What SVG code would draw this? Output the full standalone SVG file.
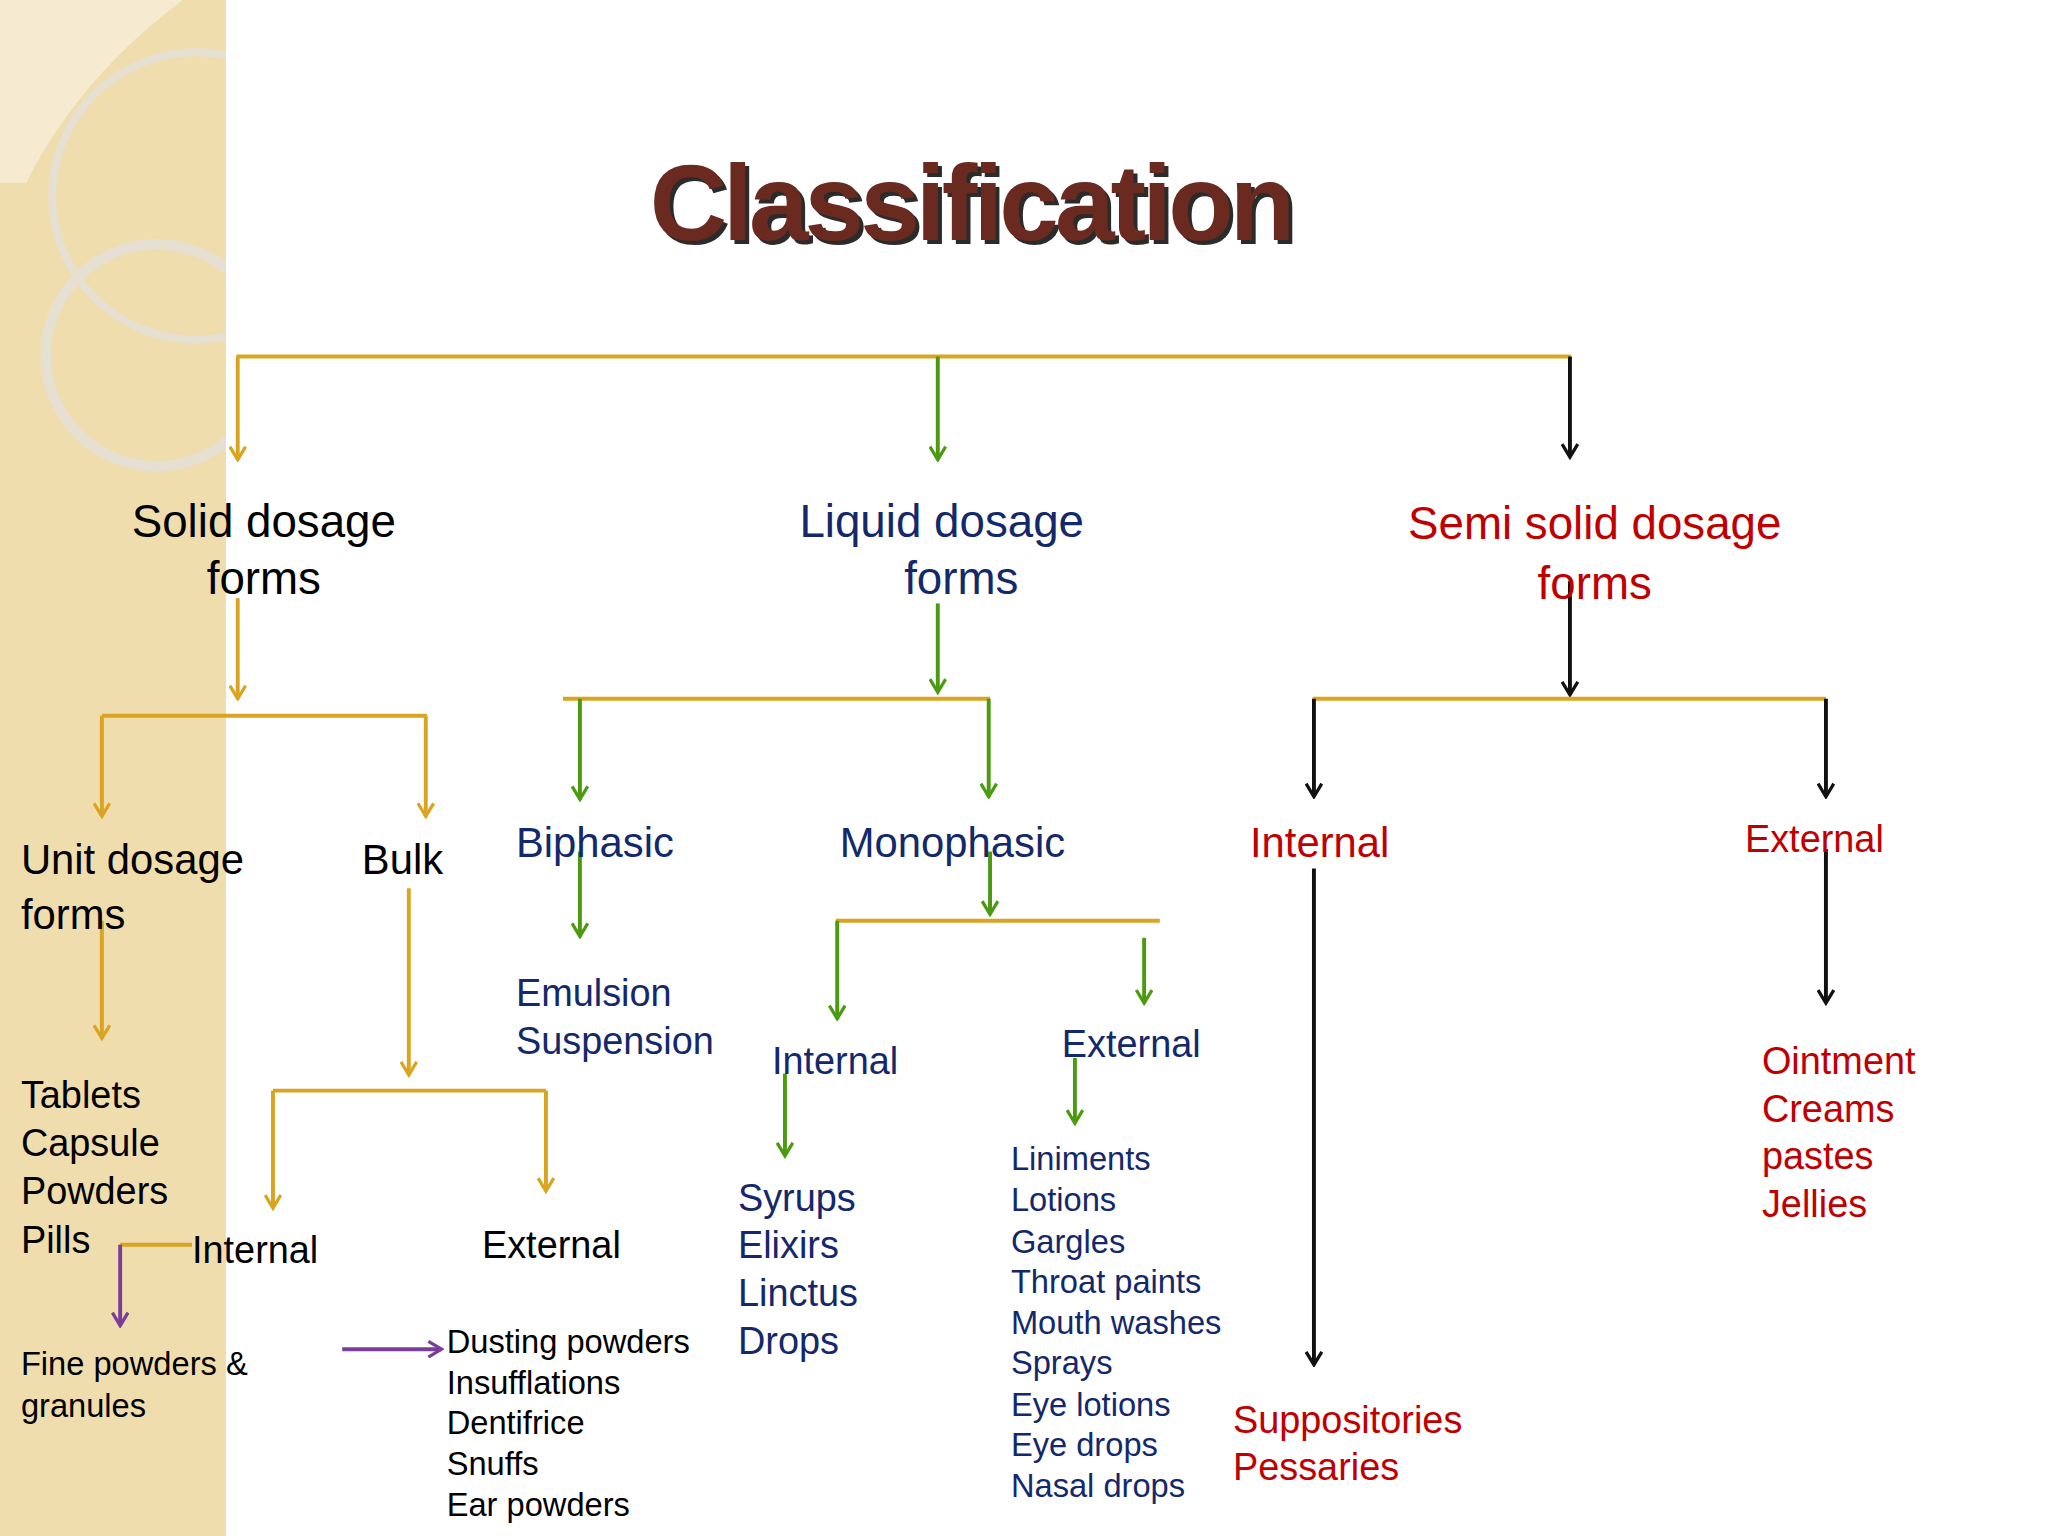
<svg xmlns="http://www.w3.org/2000/svg" width="2048" height="1536" viewBox="0 0 2048 1536">
<defs>
<style>
.c{fill:none;stroke-width:3}
.g{stroke:#D9A520}.n{stroke:#4C9A10}.k{stroke:#111}.p{stroke:#7A3E9A}
text{font-family:"Liberation Sans",Arial,sans-serif}
.h{font-size:35px}.s{font-size:32px}.l{font-size:29px}.m{font-size:25px}
.bk{fill:#000}.nv{fill:#13296B}.rd{fill:#C00000}
</style>
<clipPath id="band"><rect x="0" y="0" width="173" height="1176"/></clipPath>
<marker id="ag" markerWidth="14" markerHeight="14" refX="7" refY="12" markerUnits="userSpaceOnUse" viewBox="0 0 14 14"><path d="M1,2 L7,12 L13,2" fill="none" stroke="#D9A520" stroke-width="2.5"/></marker>
<marker id="an" markerWidth="14" markerHeight="14" refX="7" refY="12" markerUnits="userSpaceOnUse" viewBox="0 0 14 14"><path d="M1,2 L7,12 L13,2" fill="none" stroke="#4C9A10" stroke-width="2.5"/></marker>
<marker id="ak" markerWidth="14" markerHeight="14" refX="7" refY="12" markerUnits="userSpaceOnUse" viewBox="0 0 14 14"><path d="M1,2 L7,12 L13,2" fill="none" stroke="#111" stroke-width="2.5"/></marker>
<marker id="ap" markerWidth="14" markerHeight="14" refX="7" refY="12" markerUnits="userSpaceOnUse" viewBox="0 0 14 14"><path d="M1,2 L7,12 L13,2" fill="none" stroke="#7A3E9A" stroke-width="2.5"/></marker>
<marker id="ap2" markerWidth="14" markerHeight="14" refX="12" refY="7" markerUnits="userSpaceOnUse" viewBox="0 0 14 14"><path d="M2,1 L12,7 L2,13" fill="none" stroke="#7A3E9A" stroke-width="2.5"/></marker>
</defs>
<rect width="2048" height="1536" fill="#fff"/>
<g transform="scale(1.3061)">
<g id="background">
<rect x="0" y="0" width="173" height="1176" fill="#EFDDAE"/>
<g clip-path="url(#band)">
<path d="M0,0 H140 Q60,60 20,140 H0 Z" fill="#F6EBD0"/>
<circle cx="150" cy="150" r="110" fill="none" stroke="#E6E0D2" stroke-width="6"/>
<circle cx="120" cy="272" r="85" fill="none" stroke="#E6E0D2" stroke-width="8"/>
</g>
</g>
<g id="title"><text x="746" y="187" font-size="82" font-weight="bold" text-anchor="middle" fill="#2b2b2b" letter-spacing="-3">Classification</text><text x="743" y="184" font-size="82" font-weight="bold" text-anchor="middle" fill="#6B2A1F" letter-spacing="-3">Classification</text></g>
<g id="connectors">
<path class="c g" d="M181,273 H1203"/>
<path class="c g" d="M182,273 V352" marker-end="url(#ag)"/>
<path class="c n" d="M718,273 V352" marker-end="url(#an)"/>
<path class="c k" d="M1202,273 V350" marker-end="url(#ak)"/>
<path class="c g" d="M182,458 V535" marker-end="url(#ag)"/>
<path class="c g" d="M78,548 H327"/>
<path class="c g" d="M78,548 V625" marker-end="url(#ag)"/>
<path class="c g" d="M326,548 V625" marker-end="url(#ag)"/>
<path class="c g" d="M78,705 V795" marker-end="url(#ag)"/>
<path class="c g" d="M313,680 V823" marker-end="url(#ag)"/>
<path class="c g" d="M209,835 H418"/>
<path class="c g" d="M209,835 V925" marker-end="url(#ag)"/>
<path class="c g" d="M418,835 V912" marker-end="url(#ag)"/>
<path class="c g" d="M147,953 H92"/>
<path class="c p" d="M92,953 V1015" marker-end="url(#ap)"/>
<path class="c p" d="M262,1033 H338" marker-end="url(#ap2)"/>
<path class="c n" d="M718,462 V530" marker-end="url(#an)"/>
<path class="c g" d="M431,535 H758"/>
<path class="c n" d="M444,535 V612" marker-end="url(#an)"/>
<path class="c n" d="M757,535 V610" marker-end="url(#an)"/>
<path class="c n" d="M444,652 V717" marker-end="url(#an)"/>
<path class="c n" d="M758,652 V700" marker-end="url(#an)"/>
<path class="c g" d="M640,705 H888"/>
<path class="c n" d="M641,705 V780" marker-end="url(#an)"/>
<path class="c n" d="M876,718 V768" marker-end="url(#an)"/>
<path class="c n" d="M601,822 V885" marker-end="url(#an)"/>
<path class="c n" d="M823,810 V860" marker-end="url(#an)"/>
<path class="c k" d="M1202,445 V532" marker-end="url(#ak)"/>
<path class="c g" d="M1005,535 H1398"/>
<path class="c k" d="M1006,535 V610" marker-end="url(#ak)"/>
<path class="c k" d="M1398,535 V610" marker-end="url(#ak)"/>
<path class="c k" d="M1006,665 V1045" marker-end="url(#ak)"/>
<path class="c k" d="M1398,650 V768" marker-end="url(#ak)"/>
</g>
<g id="solid"><text class="h bk" x="202" y="411" text-anchor="middle">Solid dosage</text><text class="h bk" x="202" y="455" text-anchor="middle">forms</text></g>
<g id="liquid"><text class="h nv" x="721" y="411" text-anchor="middle">Liquid dosage</text><text class="h nv" x="736" y="455" text-anchor="middle">forms</text></g>
<g id="semisolid"><text class="h rd" x="1221" y="413" text-anchor="middle">Semi solid dosage</text><text class="h rd" x="1221" y="459" text-anchor="middle">forms</text></g>
<g id="unit"><text class="s bk" x="16" y="669">Unit dosage</text><text class="s bk" x="16" y="711">forms</text></g>
<g id="bulk"><text class="s bk" x="277" y="669">Bulk</text></g>
<g id="unitlist"><text class="l bk" x="16" y="848">Tablets</text><text class="l bk" x="16" y="885">Capsule</text><text class="l bk" x="16" y="922">Powders</text><text class="l bk" x="16" y="959">Pills</text></g>
<g id="bulkint"><text class="l bk" x="147" y="967">Internal</text></g>
<g id="bulkext"><text class="l bk" x="369" y="963">External</text></g>
<g id="fine"><text class="m bk" x="16" y="1053">Fine powders &amp;</text><text class="m bk" x="16" y="1085">granules</text></g>
<g id="dusting"><text class="m bk" x="342" y="1036">Dusting powders</text><text class="m bk" x="342" y="1067">Insufflations</text><text class="m bk" x="342" y="1098">Dentifrice</text><text class="m bk" x="342" y="1129">Snuffs</text><text class="m bk" x="342" y="1161">Ear powders</text></g>
<g id="biphasic"><text class="s nv" x="395" y="656">Biphasic</text></g>
<g id="monophasic"><text class="s nv" x="643" y="656">Monophasic</text></g>
<g id="emulsion"><text class="l nv" x="395" y="770">Emulsion</text><text class="l nv" x="395" y="807">Suspension</text></g>
<g id="monoint"><text class="l nv" x="591" y="822">Internal</text></g>
<g id="monoext"><text class="l nv" x="813" y="809">External</text></g>
<g id="syrups"><text class="l nv" x="565" y="927">Syrups</text><text class="l nv" x="565" y="963">Elixirs</text><text class="l nv" x="565" y="1000">Linctus</text><text class="l nv" x="565" y="1037">Drops</text></g>
<g id="liniments"><text class="m nv" x="774" y="896">Liniments</text><text class="m nv" x="774" y="927">Lotions</text><text class="m nv" x="774" y="959">Gargles</text><text class="m nv" x="774" y="990">Throat paints</text><text class="m nv" x="774" y="1021">Mouth washes</text><text class="m nv" x="774" y="1052">Sprays</text><text class="m nv" x="774" y="1084">Eye lotions</text><text class="m nv" x="774" y="1115">Eye drops</text><text class="m nv" x="774" y="1146">Nasal drops</text></g>
<g id="semiint"><text class="s rd" x="957" y="656">Internal</text></g>
<g id="semiext"><text class="l rd" x="1336" y="652">External</text></g>
<g id="supp"><text class="l rd" x="944" y="1097">Suppositories</text><text class="l rd" x="944" y="1133">Pessaries</text></g>
<g id="ointment"><text class="l rd" x="1349" y="822">Ointment</text><text class="l rd" x="1349" y="859">Creams</text><text class="l rd" x="1349" y="895">pastes</text><text class="l rd" x="1349" y="932">Jellies</text></g>
</g>
</svg>
